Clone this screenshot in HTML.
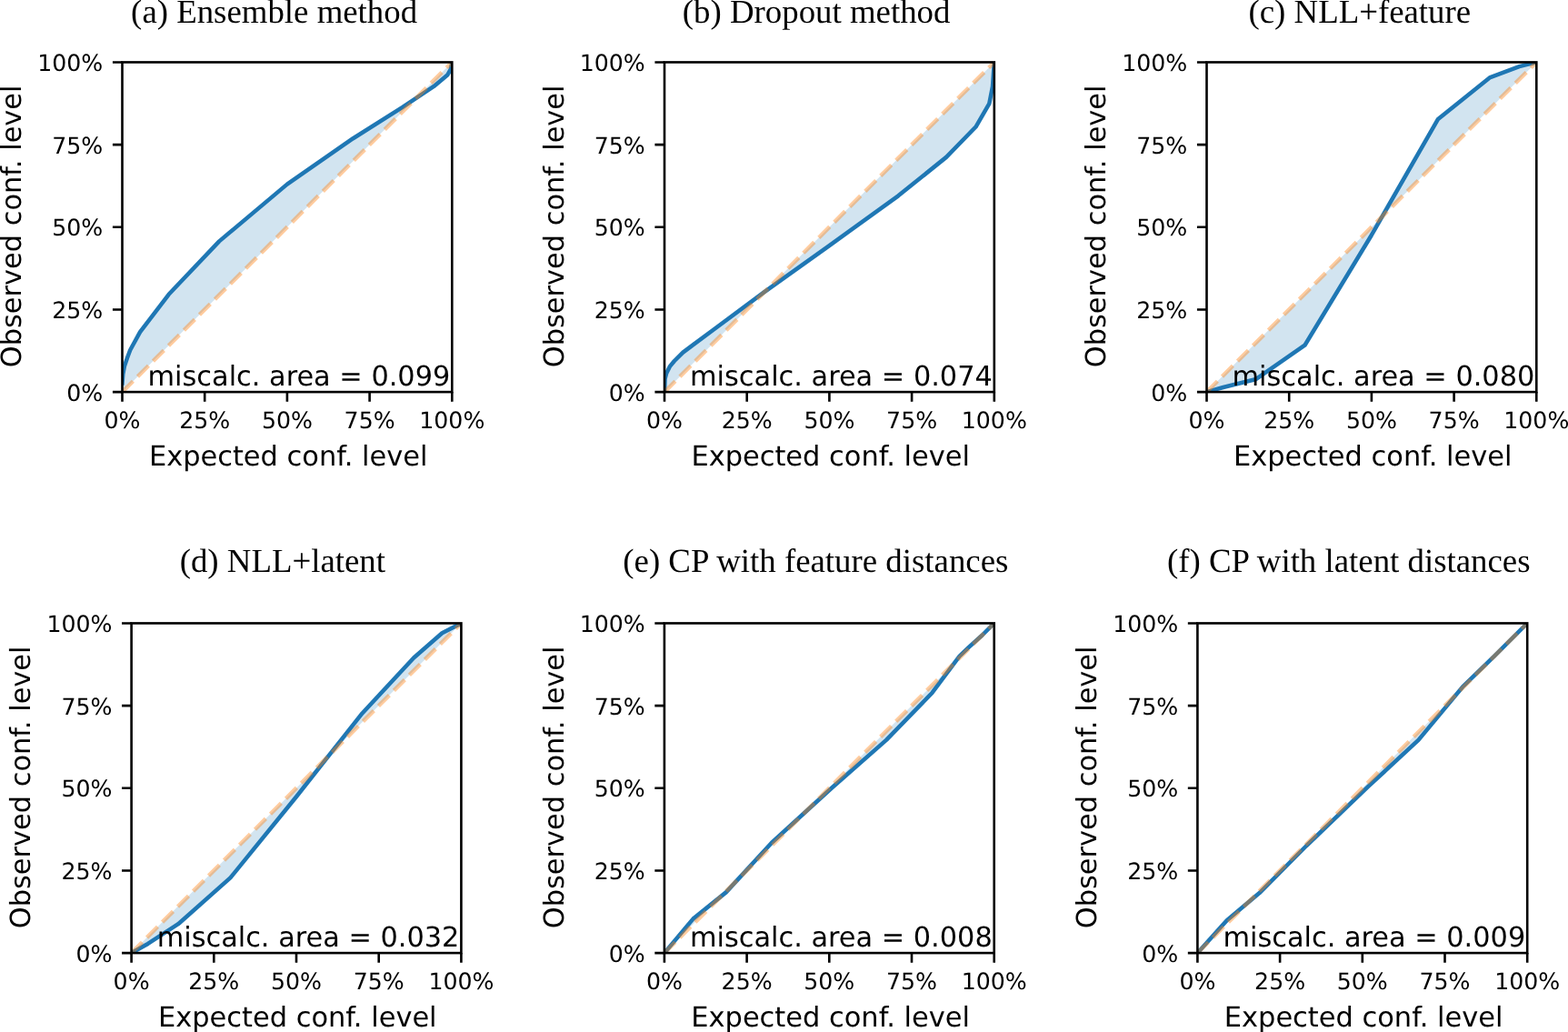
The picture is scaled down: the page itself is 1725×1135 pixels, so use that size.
<!DOCTYPE html><html><head><meta charset="utf-8"><style>html,body{margin:0;padding:0;background:#fff;overflow:hidden}svg{display:block}text{text-rendering:geometricPrecision}.tk{font-family:"DejaVu Sans",sans-serif;font-size:25.19px;fill:#000}.lb{font-family:"DejaVu Sans",sans-serif;font-size:30.4px;fill:#000}.ti{font-family:"Liberation Serif","Times New Roman",serif;font-size:36.85px;fill:#000}</style></head><body>
<svg width="1725" height="1135" viewBox="0 0 1725 1135">
<rect width="1725" height="1135" fill="#fff"/>
<defs><clipPath id="ca"><rect x="134.5" y="68.45" width="362.8" height="362.65"/></clipPath></defs>
<g clip-path="url(#ca)">
<polygon points="134.5,421.31 135.23,411.52 136.89,402.81 139.94,393.75 143.21,385.04 154.09,365.1 185.65,323.76 241.16,265.37 315.9,202.63 388.46,152.22 442.88,117.95 477.35,94.92 492.22,82.59 495.85,76.07 497.3,68.45 497.3,68.45 495.85,69.9 492.22,73.53 477.35,88.4 442.88,122.85 388.46,177.25 315.9,249.77 241.16,324.48 185.65,379.97 154.09,411.52 143.21,422.4 139.94,425.66 136.89,428.71 135.23,430.37 134.5,431.1" fill="#1f77b4" fill-opacity="0.2"/>
<polyline points="134.5,421.31 135.23,411.52 136.89,402.81 139.94,393.75 143.21,385.04 154.09,365.1 185.65,323.76 241.16,265.37 315.9,202.63 388.46,152.22 442.88,117.95 477.35,94.92 492.22,82.59 495.85,76.07 497.3,68.45" fill="none" stroke="#1f77b4" stroke-width="4.53" stroke-linejoin="round" stroke-linecap="square"/>
<line x1="134.5" y1="431.1" x2="497.3" y2="68.45" stroke="#ff7f0e" stroke-opacity="0.4" stroke-width="4.53" stroke-dasharray="16.77 7.25"/>
</g>
<rect x="134.5" y="68.45" width="362.8" height="362.65" fill="none" stroke="#000" stroke-width="2.6" stroke-linejoin="miter"/>
<path d="M134.5 431.1v10.58M134.5 431.1h-10.58M225.2 431.1v10.58M134.5 340.44h-10.58M315.9 431.1v10.58M134.5 249.77h-10.58M406.6 431.1v10.58M134.5 159.11h-10.58M497.3 431.1v10.58M134.5 68.45h-10.58" stroke="#000" stroke-width="2.6" fill="none"/>
<text class="tk" text-anchor="end" transform="translate(113.3 440.7) scale(1 1)">0%</text>
<text class="tk" text-anchor="end" transform="translate(113.3 350.04) scale(1 1)">25%</text>
<text class="tk" text-anchor="end" transform="translate(113.3 259.38) scale(1 1)">50%</text>
<text class="tk" text-anchor="end" transform="translate(113.3 168.71) scale(1 1)">75%</text>
<text class="tk" text-anchor="end" transform="translate(113.3 78.05) scale(1 1)">100%</text>
<text class="tk" text-anchor="middle" transform="translate(134.5 471.1) scale(1 1)">0%</text>
<text class="tk" text-anchor="middle" transform="translate(225.2 471.1) scale(1 1)">25%</text>
<text class="tk" text-anchor="middle" transform="translate(315.9 471.1) scale(1 1)">50%</text>
<text class="tk" text-anchor="middle" transform="translate(406.6 471.1) scale(1 1)">75%</text>
<text class="tk" text-anchor="middle" transform="translate(497.3 471.1) scale(1 1)">100%</text>
<text class="lb" x="317.2" y="512.15" text-anchor="middle" style="font-size:30.45px">Expected conf. level</text>
<text class="lb" x="0" y="0" text-anchor="middle" style="font-size:30.43px" transform="translate(23.2 248.87) rotate(-90)">Observed conf. level</text>
<text class="lb" x="495.3" y="423.55" text-anchor="end" style="font-size:30.35px">miscalc. area = 0.099</text>
<text class="ti" text-anchor="middle" transform="translate(301.6 25.3) ">(a) Ensemble method</text>
<defs><clipPath id="cb"><rect x="731" y="68.45" width="362.8" height="362.65"/></clipPath></defs>
<g clip-path="url(#cb)">
<polygon points="731,431.1 731.54,416.59 733.18,410.43 736.8,403.18 741.88,397.01 751.32,387.58 785.42,362.2 839.84,321.94 912.4,270.08 988.23,215.32 1041.01,172.89 1073.48,139.53 1088.36,113.78 1091.99,95.29 1093.8,68.45 1093.8,68.45 1091.99,70.26 1088.36,73.89 1073.48,88.76 1041.01,121.22 988.23,173.98 912.4,249.77 839.84,322.3 785.42,376.7 751.32,410.79 741.88,420.22 736.8,425.3 733.18,428.92 731.54,430.56 731,431.1" fill="#1f77b4" fill-opacity="0.2"/>
<polyline points="731,431.1 731.54,416.59 733.18,410.43 736.8,403.18 741.88,397.01 751.32,387.58 785.42,362.2 839.84,321.94 912.4,270.08 988.23,215.32 1041.01,172.89 1073.48,139.53 1088.36,113.78 1091.99,95.29 1093.8,68.45" fill="none" stroke="#1f77b4" stroke-width="4.53" stroke-linejoin="round" stroke-linecap="square"/>
<line x1="731" y1="431.1" x2="1093.8" y2="68.45" stroke="#ff7f0e" stroke-opacity="0.4" stroke-width="4.53" stroke-dasharray="16.77 7.25"/>
</g>
<rect x="731" y="68.45" width="362.8" height="362.65" fill="none" stroke="#000" stroke-width="2.6" stroke-linejoin="miter"/>
<path d="M731 431.1v10.58M731 431.1h-10.58M821.7 431.1v10.58M731 340.44h-10.58M912.4 431.1v10.58M731 249.77h-10.58M1003.1 431.1v10.58M731 159.11h-10.58M1093.8 431.1v10.58M731 68.45h-10.58" stroke="#000" stroke-width="2.6" fill="none"/>
<text class="tk" text-anchor="end" transform="translate(709.8 440.7) scale(1 1)">0%</text>
<text class="tk" text-anchor="end" transform="translate(709.8 350.04) scale(1 1)">25%</text>
<text class="tk" text-anchor="end" transform="translate(709.8 259.38) scale(1 1)">50%</text>
<text class="tk" text-anchor="end" transform="translate(709.8 168.71) scale(1 1)">75%</text>
<text class="tk" text-anchor="end" transform="translate(709.8 78.05) scale(1 1)">100%</text>
<text class="tk" text-anchor="middle" transform="translate(731 471.1) scale(1 1)">0%</text>
<text class="tk" text-anchor="middle" transform="translate(821.7 471.1) scale(1 1)">25%</text>
<text class="tk" text-anchor="middle" transform="translate(912.4 471.1) scale(1 1)">50%</text>
<text class="tk" text-anchor="middle" transform="translate(1003.1 471.1) scale(1 1)">75%</text>
<text class="tk" text-anchor="middle" transform="translate(1093.8 471.1) scale(1 1)">100%</text>
<text class="lb" x="913.7" y="512.15" text-anchor="middle" style="font-size:30.45px">Expected conf. level</text>
<text class="lb" x="0" y="0" text-anchor="middle" style="font-size:30.43px" transform="translate(619.7 248.87) rotate(-90)">Observed conf. level</text>
<text class="lb" x="1091.8" y="423.55" text-anchor="end" style="font-size:30.35px">miscalc. area = 0.074</text>
<text class="ti" text-anchor="middle" transform="translate(898.1 25.1) ">(b) Dropout method</text>
<defs><clipPath id="cc"><rect x="1327.5" y="68.45" width="362.8" height="362.65"/></clipPath></defs>
<g clip-path="url(#cc)">
<polygon points="1327.5,431.1 1345.64,426.02 1381.92,416.96 1435.43,379.71 1508.9,258.48 1582.08,130.93 1638.78,85.49 1671.43,73.16 1690.3,68.45 1690.3,68.45 1671.43,87.31 1638.78,119.95 1582.08,176.63 1508.9,249.77 1435.43,323.21 1381.92,376.7 1345.64,412.97 1327.5,431.1" fill="#1f77b4" fill-opacity="0.2"/>
<polyline points="1327.5,431.1 1345.64,426.02 1381.92,416.96 1435.43,379.71 1508.9,258.48 1582.08,130.93 1638.78,85.49 1671.43,73.16 1690.3,68.45" fill="none" stroke="#1f77b4" stroke-width="4.53" stroke-linejoin="round" stroke-linecap="square"/>
<line x1="1327.5" y1="431.1" x2="1690.3" y2="68.45" stroke="#ff7f0e" stroke-opacity="0.4" stroke-width="4.53" stroke-dasharray="16.77 7.25"/>
</g>
<rect x="1327.5" y="68.45" width="362.8" height="362.65" fill="none" stroke="#000" stroke-width="2.6" stroke-linejoin="miter"/>
<path d="M1327.5 431.1v10.58M1327.5 431.1h-10.58M1418.2 431.1v10.58M1327.5 340.44h-10.58M1508.9 431.1v10.58M1327.5 249.77h-10.58M1599.6 431.1v10.58M1327.5 159.11h-10.58M1690.3 431.1v10.58M1327.5 68.45h-10.58" stroke="#000" stroke-width="2.6" fill="none"/>
<text class="tk" text-anchor="end" transform="translate(1306.3 440.7) scale(1 1)">0%</text>
<text class="tk" text-anchor="end" transform="translate(1306.3 350.04) scale(1 1)">25%</text>
<text class="tk" text-anchor="end" transform="translate(1306.3 259.38) scale(1 1)">50%</text>
<text class="tk" text-anchor="end" transform="translate(1306.3 168.71) scale(1 1)">75%</text>
<text class="tk" text-anchor="end" transform="translate(1306.3 78.05) scale(1 1)">100%</text>
<text class="tk" text-anchor="middle" transform="translate(1327.5 471.1) scale(1 1)">0%</text>
<text class="tk" text-anchor="middle" transform="translate(1418.2 471.1) scale(1 1)">25%</text>
<text class="tk" text-anchor="middle" transform="translate(1508.9 471.1) scale(1 1)">50%</text>
<text class="tk" text-anchor="middle" transform="translate(1599.6 471.1) scale(1 1)">75%</text>
<text class="tk" text-anchor="middle" transform="translate(1690.3 471.1) scale(1 1)">100%</text>
<text class="lb" x="1510.2" y="512.15" text-anchor="middle" style="font-size:30.45px">Expected conf. level</text>
<text class="lb" x="0" y="0" text-anchor="middle" style="font-size:30.43px" transform="translate(1216.2 248.87) rotate(-90)">Observed conf. level</text>
<text class="lb" x="1688.3" y="423.55" text-anchor="end" style="font-size:30.35px">miscalc. area = 0.080</text>
<text class="ti" text-anchor="middle" transform="translate(1495.8 25.1) ">(c) NLL+feature</text>
<defs><clipPath id="cd"><rect x="144.6" y="685.45" width="362.8" height="362.65"/></clipPath></defs>
<g clip-path="url(#cd)">
<polygon points="144.6,1048.1 162.74,1037.95 196.12,1016.19 253.44,965.42 326,876.2 398.56,784.45 455.16,723.53 486.36,696.33 507.4,685.45 507.4,685.45 486.36,706.48 455.16,737.67 398.56,794.24 326,866.77 253.44,939.3 196.12,996.6 162.74,1029.97 144.6,1048.1" fill="#1f77b4" fill-opacity="0.2"/>
<polyline points="144.6,1048.1 162.74,1037.95 196.12,1016.19 253.44,965.42 326,876.2 398.56,784.45 455.16,723.53 486.36,696.33 507.4,685.45" fill="none" stroke="#1f77b4" stroke-width="4.53" stroke-linejoin="round" stroke-linecap="square"/>
<line x1="144.6" y1="1048.1" x2="507.4" y2="685.45" stroke="#ff7f0e" stroke-opacity="0.4" stroke-width="4.53" stroke-dasharray="16.77 7.25"/>
</g>
<rect x="144.6" y="685.45" width="362.8" height="362.65" fill="none" stroke="#000" stroke-width="2.6" stroke-linejoin="miter"/>
<path d="M144.6 1048.1v10.58M144.6 1048.1h-10.58M235.3 1048.1v10.58M144.6 957.44h-10.58M326 1048.1v10.58M144.6 866.77h-10.58M416.7 1048.1v10.58M144.6 776.11h-10.58M507.4 1048.1v10.58M144.6 685.45h-10.58" stroke="#000" stroke-width="2.6" fill="none"/>
<text class="tk" text-anchor="end" transform="translate(123.4 1057.7) scale(1 1)">0%</text>
<text class="tk" text-anchor="end" transform="translate(123.4 967.04) scale(1 1)">25%</text>
<text class="tk" text-anchor="end" transform="translate(123.4 876.37) scale(1 1)">50%</text>
<text class="tk" text-anchor="end" transform="translate(123.4 785.71) scale(1 1)">75%</text>
<text class="tk" text-anchor="end" transform="translate(123.4 695.05) scale(1 1)">100%</text>
<text class="tk" text-anchor="middle" transform="translate(144.6 1088.1) scale(1 1)">0%</text>
<text class="tk" text-anchor="middle" transform="translate(235.3 1088.1) scale(1 1)">25%</text>
<text class="tk" text-anchor="middle" transform="translate(326 1088.1) scale(1 1)">50%</text>
<text class="tk" text-anchor="middle" transform="translate(416.7 1088.1) scale(1 1)">75%</text>
<text class="tk" text-anchor="middle" transform="translate(507.4 1088.1) scale(1 1)">100%</text>
<text class="lb" x="327.3" y="1129.15" text-anchor="middle" style="font-size:30.45px">Expected conf. level</text>
<text class="lb" x="0" y="0" text-anchor="middle" style="font-size:30.43px" transform="translate(33.3 865.88) rotate(-90)">Observed conf. level</text>
<text class="lb" x="505.4" y="1040.55" text-anchor="end" style="font-size:30.35px">miscalc. area = 0.032</text>
<text class="ti" text-anchor="middle" transform="translate(310.8 628.5) ">(d) NLL+latent</text>
<defs><clipPath id="ce"><rect x="730.9" y="685.45" width="362.8" height="362.65"/></clipPath></defs>
<g clip-path="url(#ce)">
<polygon points="730.9,1048.1 762.68,1010.38 798.74,981.37 848.81,926.97 914.84,866.77 975.06,813.83 1025.49,761.97 1055.61,721.71 1065.76,711.92 1080.64,698.51 1093.7,685.45 1093.7,685.45 1080.64,698.51 1065.76,713.37 1055.61,723.53 1025.49,753.63 975.06,804.04 914.84,864.24 848.81,930.24 798.74,980.28 762.68,1016.33 730.9,1048.1" fill="#1f77b4" fill-opacity="0.2"/>
<polyline points="730.9,1048.1 762.68,1010.38 798.74,981.37 848.81,926.97 914.84,866.77 975.06,813.83 1025.49,761.97 1055.61,721.71 1065.76,711.92 1080.64,698.51 1093.7,685.45" fill="none" stroke="#1f77b4" stroke-width="4.53" stroke-linejoin="round" stroke-linecap="square"/>
<line x1="730.9" y1="1048.1" x2="1093.7" y2="685.45" stroke="#ff7f0e" stroke-opacity="0.4" stroke-width="4.53" stroke-dasharray="16.77 7.25"/>
</g>
<rect x="730.9" y="685.45" width="362.8" height="362.65" fill="none" stroke="#000" stroke-width="2.6" stroke-linejoin="miter"/>
<path d="M730.9 1048.1v10.58M730.9 1048.1h-10.58M821.6 1048.1v10.58M730.9 957.44h-10.58M912.3 1048.1v10.58M730.9 866.77h-10.58M1003 1048.1v10.58M730.9 776.11h-10.58M1093.7 1048.1v10.58M730.9 685.45h-10.58" stroke="#000" stroke-width="2.6" fill="none"/>
<text class="tk" text-anchor="end" transform="translate(709.7 1057.7) scale(1 1)">0%</text>
<text class="tk" text-anchor="end" transform="translate(709.7 967.04) scale(1 1)">25%</text>
<text class="tk" text-anchor="end" transform="translate(709.7 876.37) scale(1 1)">50%</text>
<text class="tk" text-anchor="end" transform="translate(709.7 785.71) scale(1 1)">75%</text>
<text class="tk" text-anchor="end" transform="translate(709.7 695.05) scale(1 1)">100%</text>
<text class="tk" text-anchor="middle" transform="translate(730.9 1088.1) scale(1 1)">0%</text>
<text class="tk" text-anchor="middle" transform="translate(821.6 1088.1) scale(1 1)">25%</text>
<text class="tk" text-anchor="middle" transform="translate(912.3 1088.1) scale(1 1)">50%</text>
<text class="tk" text-anchor="middle" transform="translate(1003 1088.1) scale(1 1)">75%</text>
<text class="tk" text-anchor="middle" transform="translate(1093.7 1088.1) scale(1 1)">100%</text>
<text class="lb" x="913.6" y="1129.15" text-anchor="middle" style="font-size:30.45px">Expected conf. level</text>
<text class="lb" x="0" y="0" text-anchor="middle" style="font-size:30.43px" transform="translate(619.6 865.88) rotate(-90)">Observed conf. level</text>
<text class="lb" x="1091.7" y="1040.55" text-anchor="end" style="font-size:30.35px">miscalc. area = 0.008</text>
<text class="ti" text-anchor="middle" transform="translate(897.3 628.6) ">(e) CP with feature distances</text>
<defs><clipPath id="cf"><rect x="1317.4" y="685.45" width="362.8" height="362.65"/></clipPath></defs>
<g clip-path="url(#cf)">
<polygon points="1317.4,1048.1 1349.69,1012.2 1385.61,982.1 1437.12,930.24 1505.33,864.96 1560.48,813.83 1609.09,755.44 1643.92,721.71 1680.2,685.45 1680.2,685.45 1643.92,721.71 1609.09,756.53 1560.48,805.12 1505.33,860.25 1437.12,928.43 1385.61,979.92 1349.69,1015.82 1317.4,1048.1" fill="#1f77b4" fill-opacity="0.2"/>
<polyline points="1317.4,1048.1 1349.69,1012.2 1385.61,982.1 1437.12,930.24 1505.33,864.96 1560.48,813.83 1609.09,755.44 1643.92,721.71 1680.2,685.45" fill="none" stroke="#1f77b4" stroke-width="4.53" stroke-linejoin="round" stroke-linecap="square"/>
<line x1="1317.4" y1="1048.1" x2="1680.2" y2="685.45" stroke="#ff7f0e" stroke-opacity="0.4" stroke-width="4.53" stroke-dasharray="16.77 7.25"/>
</g>
<rect x="1317.4" y="685.45" width="362.8" height="362.65" fill="none" stroke="#000" stroke-width="2.6" stroke-linejoin="miter"/>
<path d="M1317.4 1048.1v10.58M1317.4 1048.1h-10.58M1408.1 1048.1v10.58M1317.4 957.44h-10.58M1498.8 1048.1v10.58M1317.4 866.77h-10.58M1589.5 1048.1v10.58M1317.4 776.11h-10.58M1680.2 1048.1v10.58M1317.4 685.45h-10.58" stroke="#000" stroke-width="2.6" fill="none"/>
<text class="tk" text-anchor="end" transform="translate(1296.2 1057.7) scale(1 1)">0%</text>
<text class="tk" text-anchor="end" transform="translate(1296.2 967.04) scale(1 1)">25%</text>
<text class="tk" text-anchor="end" transform="translate(1296.2 876.37) scale(1 1)">50%</text>
<text class="tk" text-anchor="end" transform="translate(1296.2 785.71) scale(1 1)">75%</text>
<text class="tk" text-anchor="end" transform="translate(1296.2 695.05) scale(1 1)">100%</text>
<text class="tk" text-anchor="middle" transform="translate(1317.4 1088.1) scale(1 1)">0%</text>
<text class="tk" text-anchor="middle" transform="translate(1408.1 1088.1) scale(1 1)">25%</text>
<text class="tk" text-anchor="middle" transform="translate(1498.8 1088.1) scale(1 1)">50%</text>
<text class="tk" text-anchor="middle" transform="translate(1589.5 1088.1) scale(1 1)">75%</text>
<text class="tk" text-anchor="middle" transform="translate(1680.2 1088.1) scale(1 1)">100%</text>
<text class="lb" x="1500.1" y="1129.15" text-anchor="middle" style="font-size:30.45px">Expected conf. level</text>
<text class="lb" x="0" y="0" text-anchor="middle" style="font-size:30.43px" transform="translate(1206.1 865.88) rotate(-90)">Observed conf. level</text>
<text class="lb" x="1678.2" y="1040.55" text-anchor="end" style="font-size:30.35px">miscalc. area = 0.009</text>
<text class="ti" text-anchor="middle" transform="translate(1483.7 628.6) ">(f) CP with latent distances</text>
</svg></body></html>
